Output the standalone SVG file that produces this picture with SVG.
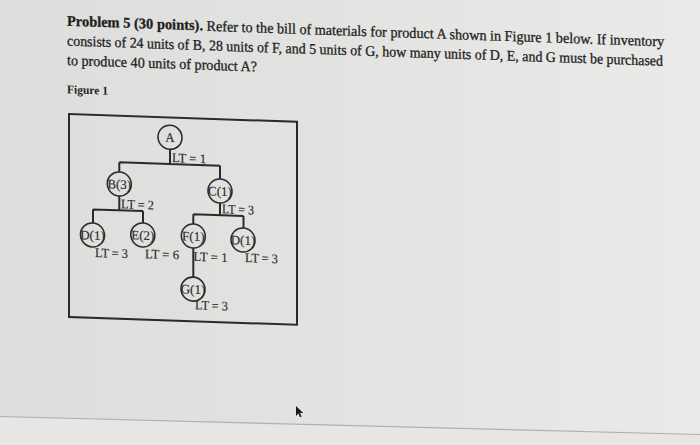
<svg xmlns="http://www.w3.org/2000/svg" width="700" height="445" viewBox="0 0 700 445">
<style>
.t{font-family:"Liberation Serif","Times New Roman",serif;fill:#1e1e1e}
.h{font-size:14.8px;stroke:#1e1e1e;stroke-width:0.3}
.b{font-weight:bold}
.lt{font-size:13px;fill:#2a2a2a;stroke:#2a2a2a;stroke-width:0.15}
.nl{font-size:13px;fill:#2a2a2a;text-anchor:middle;stroke:#2a2a2a;stroke-width:0.15}
.c{fill:none;stroke:#2c2c2c;stroke-width:1.6}
.e{fill:none;stroke:#2a2a2a;stroke-width:2}
</style>
<defs>
<linearGradient id="bg" x1="0" y1="0" x2="1" y2="0">
<stop offset="0" stop-color="#dddddb"/>
<stop offset="0.6" stop-color="#e4e5e3"/>
<stop offset="1" stop-color="#eaeae8"/>
</linearGradient>
</defs>
<rect width="700" height="445" fill="url(#bg)"/>
<polygon points="0,416.5 700,434.5 700,445 0,445" fill="#e6e6e4"/>
<line x1="0" y1="416.5" x2="700" y2="434.5" stroke="#b0b1ae" stroke-width="1.2"/>
<path d="M296 406 L296 416 L298.4 413.6 L300 417.3 L301.6 416.6 L300 413 L303.2 413 Z" fill="#1a1a1a"/>
<g transform="matrix(1 0.034 0 1 0 -2.278)">
<g id="title">
<text class="t h b" x="67" y="25.7" textLength="136" lengthAdjust="spacingAndGlyphs">Problem 5 (30 points).</text>
<text class="t h" x="206.5" y="26" textLength="457.5" lengthAdjust="spacingAndGlyphs">Refer to the bill of materials for product A shown in Figure 1 below. If inventory</text>
<text class="t h" x="67" y="45.5" textLength="596" lengthAdjust="spacingAndGlyphs">consists of 24 units of B, 28 units of F, and 5 units of G, how many units of D, E, and G must be purchased</text>
<text class="t h" x="67" y="65" textLength="190" lengthAdjust="spacingAndGlyphs">to produce 40 units of product A?</text>
<text class="t b" x="67" y="93.3" font-size="11.8" textLength="41" lengthAdjust="spacingAndGlyphs">Figure 1</text>
</g>
<rect id="frame" x="69" y="114" width="228" height="203" fill="none" stroke="#2a2a2a" stroke-width="2"/>
<g id="connectors">
<path class="e" d="M170 146 V160.5 M119.3 160.5 H220 M119.3 160.5 V170.2 M220 160.5 V173.8"/>
<path class="e" d="M119.3 194.2 V208.5 M93 208.5 H143 M93 208.5 V222.1 M143 208.5 V220.4"/>
<path class="e" d="M220 197.8 V210 M193.3 210 H243.5 M193.3 210 V219.7 M243.5 210 V222"/>
<path class="e" d="M193.3 243.7 V272.8"/>
</g>
<g id="nA"><circle class="c" cx="170" cy="133.8" r="12"/><text class="t nl" x="170" y="138.5">A</text><text class="t lt" x="172" y="158.5" textLength="34" lengthAdjust="spacingAndGlyphs">LT = 1</text></g>
<g id="nB"><circle class="c" cx="119.3" cy="182.2" r="12"/><text class="t nl" x="119.3" y="186.9">B(3)</text><text class="t lt" x="121" y="206.5" textLength="33" lengthAdjust="spacingAndGlyphs">LT = 2</text></g>
<g id="nC"><circle class="c" cx="220" cy="185.8" r="12"/><text class="t nl" x="220" y="190.5">C(1)</text><text class="t lt" x="222" y="208" textLength="32" lengthAdjust="spacingAndGlyphs">LT = 3</text></g>
<g id="nD1"><circle class="c" cx="92.5" cy="234.1" r="12"/><text class="t nl" x="92.5" y="238.8">D(1)</text><text class="t lt" x="95" y="256" textLength="33" lengthAdjust="spacingAndGlyphs">LT = 3</text></g>
<g id="nE"><circle class="c" cx="142.8" cy="232.4" r="12"/><text class="t nl" x="142.8" y="237.1">E(2)</text><text class="t lt" x="145" y="255.5" textLength="34" lengthAdjust="spacingAndGlyphs">LT = 6</text></g>
<g id="nF"><circle class="c" cx="193.3" cy="231.7" r="12"/><text class="t nl" x="193.3" y="236.4">F(1)</text><text class="t lt" x="193.5" y="256.5" textLength="34" lengthAdjust="spacingAndGlyphs">LT = 1</text></g>
<g id="nD2"><circle class="c" cx="243" cy="234" r="12"/><text class="t nl" x="243" y="238.7">D(1)</text><text class="t lt" x="245" y="256" textLength="33" lengthAdjust="spacingAndGlyphs">LT = 3</text></g>
<g id="nG"><circle class="c" cx="193" cy="284.8" r="12"/><text class="t nl" x="193" y="289.5">G(1)</text><text class="t lt" x="195" y="305" textLength="33" lengthAdjust="spacingAndGlyphs">LT = 3</text></g>
</g>
</svg>
